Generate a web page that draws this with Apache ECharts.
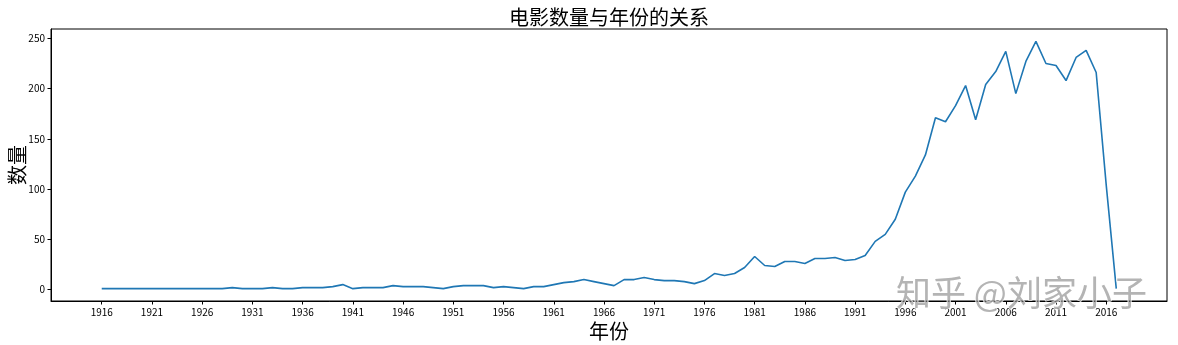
<!DOCTYPE html>
<html>
<head>
<meta charset="utf-8">
<script src="https://cdn.jsdelivr.net/npm/echarts@6/dist/echarts.min.js"></script>
<style>
html,body{margin:0;padding:0;background:#fff;}
#chart{width:1178px;height:345px;}
</style>
</head>
<body>
<div id="chart"></div>
<script>
const years = [1916,1917,1918,1919,1920,1921,1922,1923,1924,1925,1926,1927,1928,1929,1930,1931,1932,1933,1934,1935,1936,1937,1938,1939,1940,1941,1942,1943,1944,1945,1946,1947,1948,1949,1950,1951,1952,1953,1954,1955,1956,1957,1958,1959,1960,1961,1962,1963,1964,1965,1966,1967,1968,1969,1970,1971,1972,1973,1974,1975,1976,1977,1978,1979,1980,1981,1982,1983,1984,1985,1986,1987,1988,1989,1990,1991,1992,1993,1994,1995,1996,1997,1998,1999,2000,2001,2002,2003,2004,2005,2006,2007,2008,2009,2010,2011,2012,2013,2014,2015,2016,2017];
const counts = [1,1,1,1,1,1,1,1,1,1,1,1,1,2,1,1,1,2,1,1,2,2,2,3,5,1,2,2,2,4,3,3,3,2,1,3,4,4,4,2,3,2,1,3,3,5,7,8,10,8,6,4,10,10,12,10,9,9,8,6,9,16,14,16,22,33,24,23,28,28,26,31,31,32,29,30,34,48,55,70,97,113,134,171,167,183,203,169,204,217,237,195,227,247,225,223,208,231,238,216,104,1];
const xTicks = [1916,1921,1926,1931,1936,1941,1946,1951,1956,1961,1966,1971,1976,1981,1986,1991,1996,2001,2006,2011,2016];
const yTicks = [0,50,100,150,200,250];
const titleText = '电影数量与年份的关系';
const xName = '年份';
const yName = '数量';
const watermark = '知乎 @刘家小子';

const seriesData = years.map((y, i) => [y, counts[i]]);
const xMin = 1916, xMax = 2017, yMinD = 1, yMaxD = 247;
const xPad = (xMax - xMin) * 0.05, yPad = (yMaxD - yMinD) * 0.05;
const FONT = 'Noto Sans CJK SC';

const chart = echarts.init(document.getElementById('chart'), null, {renderer: 'canvas'});
chart.setOption({
  animation: false,
  backgroundColor: '#fff',
  grid: {left: 51, right: 11, top: 29, bottom: 44, containLabel: false, outerBoundsMode: 'none', show: true, borderColor: '#000', borderWidth: 1, backgroundColor: 'transparent'},
  xAxis: {
    type: 'value', min: xMin - xPad, max: xMax + xPad,
    name: xName, nameLocation: 'middle', nameGap: 19,
    nameTextStyle: {fontFamily: FONT, fontSize: 20, color: '#000'},
    axisLine: {show: true, onZero: false, lineStyle: {color: '#000', width: 1}},
    axisTick: {show: true, length: 3.5, customValues: xTicks, lineStyle: {color: '#000'}},
    axisLabel: {customValues: xTicks, margin: 6, fontFamily: FONT, fontSize: 10, color: '#000', formatter: v => String(v)},
    splitLine: {show: false}
  },
  yAxis: {
    type: 'value', min: yMinD - yPad, max: yMaxD + yPad,
    axisLine: {show: true, onZero: false, lineStyle: {color: '#000', width: 1}},
    axisTick: {show: true, length: 3.5, customValues: yTicks, lineStyle: {color: '#000'}},
    axisLabel: {customValues: yTicks, margin: 6, fontFamily: FONT, fontSize: 10, color: '#000', formatter: v => String(v)},
    splitLine: {show: false}
  },
  series: [{
    type: 'line', data: seriesData, showSymbol: false, symbol: 'none',
    lineStyle: {color: '#1f77b4', width: 1.6}, z: 3
  }],
  graphic: [
    {type: 'text', x: 609, y: 17, z: 10, style: {text: titleText, font: '20px "Noto Sans CJK SC"', fill: '#000', textAlign: 'center', textVerticalAlign: 'middle'}},
    {type: 'text', x: 17, y: 165, rotation: Math.PI / 2, z: 10, style: {text: yName, font: '20px "Noto Sans CJK SC"', fill: '#000', textAlign: 'center', textVerticalAlign: 'middle'}},
    {type: 'text', x: 896, y: 293, z: 20, style: {text: watermark, font: '35px "Noto Sans CJK SC"', fill: 'rgba(130,130,130,0.6)', stroke: 'rgba(255,255,255,0.8)', lineWidth: 1.5, textAlign: 'left', textVerticalAlign: 'middle'}}
  ]
});
</script>
</body>
</html>
